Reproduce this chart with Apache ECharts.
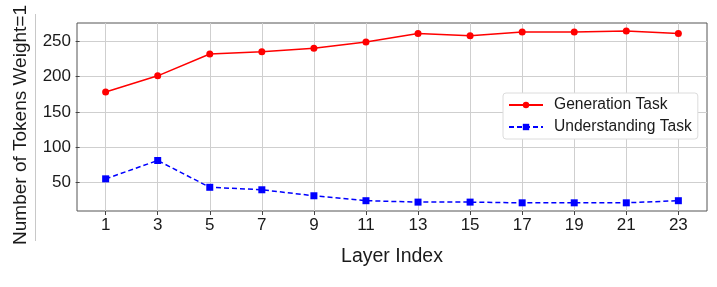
<!DOCTYPE html>
<html>
<head>
<meta charset="utf-8">
<script src="https://cdn.jsdelivr.net/npm/echarts@6/dist/echarts.min.js"></script>
<style>html,body{margin:0;padding:0;background:#fff;}#c{width:717px;height:287px;}</style>
</head>
<body>
<div id="c"></div>
<script>
const layers = [1, 3, 5, 7, 9, 11, 13, 15, 17, 19, 21, 23];
const generation = [178, 201, 232, 235, 240, 249, 261, 258, 263, 263, 264.5, 261];
const understanding = [55, 81, 43, 39.5, 31, 24, 22, 22, 21, 21, 21, 24];
const yTicks = [50, 100, 150, 200, 250];
const seriesNames = ['Generation Task', 'Understanding Task'];

const FONT = 'Liberation Sans, Arial, sans-serif';
const chart = echarts.init(document.getElementById('c'), null, {renderer: 'canvas'});
const pairs = arr => layers.map((l, i) => [l, arr[i]]);

chart.setOption({
  animation: false,
  backgroundColor: '#fff',
  grid: {left: 77, right: 10, top: 23, bottom: 76, show: true, borderColor: '#555', borderWidth: 1, backgroundColor: 'transparent'},
  legend: {
    left: 503, top: 93,
    orient: 'vertical',
    backgroundColor: '#fff',
    borderColor: '#dcdcdc', borderWidth: 1, borderRadius: 3,
    padding: [4, 6, 4, 5],
    itemWidth: 34, itemHeight: 8, itemGap: 6,
    textStyle: {fontFamily: FONT, fontSize: 15.6, color: '#1a1a1a', padding: [0, 0, 0, 6]},
    data: seriesNames
  },
  xAxis: {
    type: 'value', min: -0.1, max: 24.1,
    name: 'Layer Index', nameLocation: 'middle', nameGap: 36,
    nameTextStyle: {fontFamily: FONT, fontSize: 19.5, color: '#1a1a1a'},
    axisLine: {show: false},
    axisTick: {show: true, customValues: layers, length: 4, lineStyle: {color: '#444'}},
    axisLabel: {customValues: layers, fontFamily: FONT, fontSize: 17, color: '#1a1a1a', margin: 6},
    splitLine: {show: true, lineStyle: {color: '#cfcfcf', width: 1}}
  },
  yAxis: {
    type: 'value', min: 9.4, max: 275.9,
    axisLine: {show: false},
    axisTick: {show: true, customValues: yTicks, length: 4, lineStyle: {color: '#444'}},
    axisLabel: {customValues: yTicks, fontFamily: FONT, fontSize: 17, color: '#1a1a1a', margin: 6},
    splitLine: {show: true, lineStyle: {color: '#cfcfcf', width: 1}}
  },
  graphic: [
    {type: 'text', x: 21, y: 125, rotation: Math.PI / 2,
      style: {text: 'Number of Tokens Weight=1', fontFamily: FONT, fontSize: 19, fill: '#1a1a1a', textAlign: 'center', textVerticalAlign: 'middle'}},
    {type: 'line', shape: {x1: 35.5, y1: 14, x2: 35.5, y2: 241}, style: {stroke: '#c8c8c8', lineWidth: 1}}
  ],
  series: [
    {name: seriesNames[0], type: 'line', data: pairs(generation),
      symbol: 'circle', symbolSize: 7, color: '#ff0000',
      lineStyle: {color: '#ff0000', width: 1.5},
      itemStyle: {color: '#ff0000'}},
    {name: seriesNames[1], type: 'line', data: pairs(understanding),
      symbol: 'rect', symbolSize: 7, color: '#0000ff',
      lineStyle: {color: '#0000ff', width: 1.5, type: [5, 3]},
      itemStyle: {color: '#0000ff'}}
  ]
});
</script>
</body>
</html>
